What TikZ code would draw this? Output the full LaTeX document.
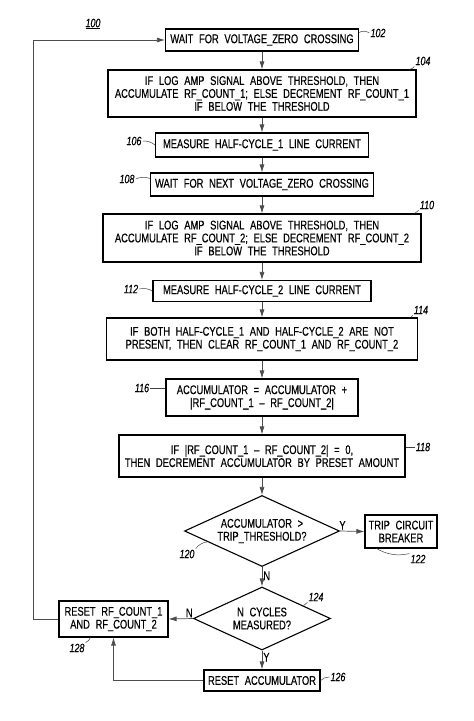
\documentclass[tikz,border=0pt]{standalone}
\usepackage{fontspec}
\setmainfont{Liberation Sans}[FakeStretch=0.74,WordSpace=2.2,FakeBold=0.4]
\usetikzlibrary{arrows.meta,shapes.geometric,calc}
\begin{document}
\begin{tikzpicture}[x=1pt,y=-1pt,>={Latex[length=8pt,width=5pt]},
  stepbox/.style={rectangle,draw=black,line width=1.1pt,align=center,inner sep=0pt,font=\fontsize{12.6}{12.9}\selectfont},
  testbox/.style={diamond,aspect=2.2,draw=black,line width=1.1pt,align=center,inner sep=0pt,font=\fontsize{12.6}{12.9}\selectfont},
  flow/.style={->,draw=black!70,line width=0.7pt},
  refnum/.style={font=\fontsize{12}{12}\selectfont\itshape,inner sep=1pt},
  leader/.style={draw=black!75,line width=0.5pt},
  yn/.style={font=\fontsize{12.6}{12.6}\selectfont,inner sep=1pt}]
\useasboundingbox (0,0) rectangle (474,721);
\node[stepbox,minimum width=193pt,minimum height=22pt] (b102) at (262,40) {WAIT FOR VOLTAGE\_ZERO CROSSING};
\node[stepbox,minimum width=308pt,minimum height=47pt] (b104) at (262,93.5) {IF LOG AMP SIGNAL ABOVE THRESHOLD, THEN\\ACCUMULATE RF\_COUNT\_1; ELSE DECREMENT RF\_COUNT\_1\\IF BELOW THE THRESHOLD};
\node[stepbox,minimum width=213pt,minimum height=24pt] (b106) at (262,145) {MEASURE HALF-CYCLE\_1 LINE CURRENT};
\node[stepbox,minimum width=223pt,minimum height=23pt] (b108) at (262,184.5) {WAIT FOR NEXT VOLTAGE\_ZERO CROSSING};
\node[stepbox,minimum width=318pt,minimum height=48pt] (b110) at (262,238) {IF LOG AMP SIGNAL ABOVE THRESHOLD, THEN\\ACCUMULATE RF\_COUNT\_2; ELSE DECREMENT RF\_COUNT\_2\\IF BELOW THE THRESHOLD};
\node[stepbox,minimum width=218pt,minimum height=21pt] (b112) at (262,291) {MEASURE HALF-CYCLE\_2 LINE CURRENT};
\node[stepbox,minimum width=311pt,minimum height=42pt] (b114) at (262,339) {IF BOTH HALF-CYCLE\_1 AND HALF-CYCLE\_2 ARE NOT\\PRESENT, THEN CLEAR RF\_COUNT\_1 AND RF\_COUNT\_2};
\node[stepbox,minimum width=192pt,minimum height=37pt] (b116) at (262,397.5) {ACCUMULATOR = ACCUMULATOR +\\|RF\_COUNT\_1 -- RF\_COUNT\_2|};
\node[stepbox,minimum width=286pt,minimum height=42pt] (b118) at (262,456) {IF |RF\_COUNT\_1 -- RF\_COUNT\_2| = 0,\\THEN DECREMENT ACCUMULATOR BY PRESET AMOUNT};
\node[testbox,minimum width=155pt,minimum height=71pt] (b120) at (262,531) {ACCUMULATOR >\\TRIP\_THRESHOLD?};
\node[stepbox,minimum width=72pt,minimum height=33pt] (b122) at (401,531.5) {TRIP CIRCUIT\\BREAKER};
\node[testbox,minimum width=137pt,minimum height=63pt] (b124) at (262,618.5) {N CYCLES\\MEASURED?};
\node[stepbox,minimum width=109pt,minimum height=36pt] (b128) at (113.5,619) {RESET RF\_COUNT\_1\\AND RF\_COUNT\_2};
\node[stepbox,minimum width=116pt,minimum height=21pt] (b126) at (262,680.5) {RESET ACCUMULATOR};
% flow
\draw[flow] (b102) -- (b104);
\draw[flow] (b104) -- (b106);
\draw[flow] (b106) -- (b108);
\draw[flow] (b108) -- (b110);
\draw[flow] (b110) -- (b112);
\draw[flow] (b112) -- (b114);
\draw[flow] (b114) -- (b116);
\draw[flow] (b116) -- (b118);
\draw[flow] (b118) -- (b120);
\draw[flow] (b120.east) -- node[yn,above,pos=0.1]{Y} (b122.west);
\draw[flow] (b120.south) -- node[yn,right,pos=0.45]{N} (b124.north);
\draw[flow] (b124.west) -- node[yn,above,pos=0.15]{N} (b128.east);
\draw[flow] (b124.south) -- node[yn,right,pos=0.35]{Y} (b126.north);
\draw[flow] (b126.west) -| (b128.south);
\draw[flow] (b128.west) -- ++(-25,0) |- (b102.west);
% reference numerals
\node[refnum] (n100) at (93,24) {\underline{100}};
\node[refnum] (n102) at (378,33) {102};
\node[refnum] (n104) at (423,61) {104};
\node[refnum] (n106) at (134,141) {106};
\node[refnum] (n108) at (127,179) {108};
\node[refnum] (n110) at (427,205) {110};
\node[refnum] (n112) at (131,289) {112};
\node[refnum] (n114) at (421,310) {114};
\node[refnum] (n116) at (142,388) {116};
\node[refnum] (n118) at (423,447) {118};
\node[refnum] (n120) at (187,554) {120};
\node[refnum] (n122) at (418,559) {122};
\node[refnum] (n124) at (316,597) {124};
\node[refnum] (n128) at (77,648) {128};
\node[refnum] (n126) at (338,677) {126};
\draw[leader] ($(b102.north east)+(0,4)$) to[bend left=30] (n102.west);
\draw[leader] ($(b104.north east)+(-7,0)$) to[bend right=20] (n104.south west);
\draw[leader] (n106.east) to[bend left=20] (b106.west);
\draw[leader] (n108.east) to[bend left=20] ($(b108.north west)+(0,6)$);
\draw[leader] ($(b110.north east)+(-7,0)$) to[bend right=20] (n110.south west);
\draw[leader] (n112.east) to[bend left=20] (b112.west);
\draw[leader] ($(b114.north east)+(-7,0)$) to[bend right=20] (n114.south west);
\draw[leader] (n116.east) -- (n116.east -| b116.west);
\draw[leader] (b118.east |- n118.west) -- (n118.west);
\draw[leader] (n120.north east) to[bend left=20] ($(b120.west)!0.3!(b120.south)$);
\draw[leader] ($(b122.south west)+(12,0)$) to[bend right=20] (n122.north west);
\draw[leader] ($(b124.north)!0.6!(b124.east)$) to[bend left=20] (n124.south west);
\draw[leader] (n128.north east) to[bend right=20] ($(b128.south west)+(32,0)$);
\draw[leader] (b126.east) to[bend left=20] (n126.west);
\end{tikzpicture}
\end{document}
